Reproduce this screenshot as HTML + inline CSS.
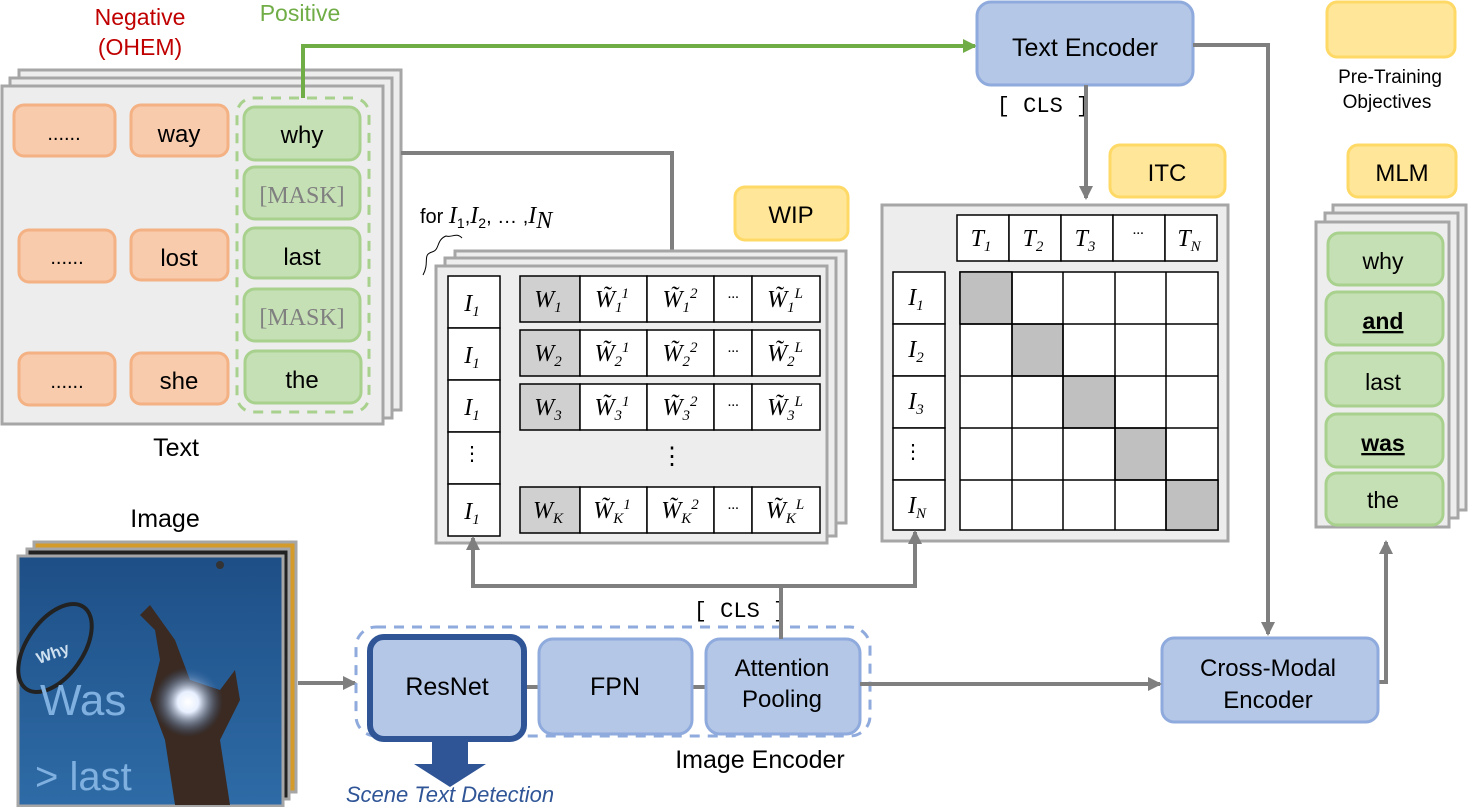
<!DOCTYPE html>
<html><head><meta charset="utf-8"><style>
html,body{margin:0;padding:0;background:#fff;}
svg{display:block;font-family:"Liberation Sans",sans-serif;}
.m{font-family:"Liberation Serif",serif;font-style:italic;font-size:24px;}
.s{font-size:15px;}
</style></head><body>
<svg width="1468" height="807" viewBox="0 0 1468 807" xmlns="http://www.w3.org/2000/svg">
<defs>
<marker id="agr" markerWidth="16" markerHeight="16" refX="12" refY="7" orient="auto" markerUnits="userSpaceOnUse"><path d="M0,0 L14,7 L0,14 z" fill="#70ad47"/></marker>
<marker id="a" markerWidth="16" markerHeight="16" refX="12" refY="7" orient="auto" markerUnits="userSpaceOnUse"><path d="M0,0 L14,7 L0,14 z" fill="#7f7f7f"/></marker>
</defs>

<text x="140" y="25" font-size="23" fill="#c00000" text-anchor="middle">Negative</text>
<text x="140" y="55" font-size="23" fill="#c00000" text-anchor="middle">(OHEM)</text>
<text x="300" y="21" font-size="23" fill="#70ad47" text-anchor="middle">Positive</text>

<rect x="19" y="70" width="382" height="340" fill="#ededed" stroke="#a6a6a6" stroke-width="3"/>
<rect x="10" y="78" width="382" height="340" fill="#ededed" stroke="#a6a6a6" stroke-width="3"/>
<rect x="2" y="86" width="381" height="338" fill="#ededed" stroke="#a6a6a6" stroke-width="3"/>
<g fill="#f8cbad" stroke="#f4b183" stroke-width="3">
<rect x="14" y="105" width="101" height="51" rx="10"/><rect x="131" y="105" width="97" height="51" rx="10"/>
<rect x="19" y="230" width="96" height="52" rx="10"/><rect x="131" y="230" width="97" height="50" rx="10"/>
<rect x="19" y="353" width="96" height="52" rx="10"/><rect x="131" y="353" width="97" height="51" rx="10"/>
</g>
<g font-size="24" text-anchor="middle">
<text x="64" y="140" font-size="20">......</text><text x="179" y="142">way</text>
<text x="67" y="264" font-size="20">......</text><text x="179" y="266">lost</text>
<text x="67" y="388" font-size="20">......</text><text x="179" y="389">she</text>
</g>
<rect x="237" y="98" width="132" height="314" rx="16" fill="none" stroke="#a9d18e" stroke-width="3" stroke-dasharray="10,8"/>
<g fill="#c5e0b4" stroke="#a9d18e" stroke-width="3">
<rect x="244" y="107" width="116" height="53" rx="11"/>
<rect x="244" y="167" width="116" height="52" rx="11"/>
<rect x="244" y="228" width="116" height="50" rx="11"/>
<rect x="244" y="289" width="116" height="52" rx="11"/>
<rect x="245" y="351" width="116" height="52" rx="11"/>
</g>
<g font-size="24" text-anchor="middle">
<text x="302" y="143">why</text><text x="302" y="265">last</text><text x="302" y="388">the</text>
</g>
<g font-family="Liberation Serif,serif" font-size="24" fill="#808080" text-anchor="middle">
<text x="302" y="203">[MASK]</text><text x="302" y="325">[MASK]</text>
</g>
<text x="176" y="456" font-size="25" text-anchor="middle">Text</text>

<polyline points="303,98 303,46 975,46" fill="none" stroke="#70ad47" stroke-width="4" marker-end="url(#agr)"/>

<rect x="977" y="2" width="216" height="83" rx="14" fill="#b4c7e7" stroke="#8faadc" stroke-width="3"/>
<text x="1085" y="56" font-size="25" text-anchor="middle">Text Encoder</text>
<text x="1043" y="112" font-family="Liberation Mono,monospace" font-size="22" text-anchor="middle">[ CLS ]</text>
<line x1="1086" y1="85" x2="1086" y2="198" stroke="#7f7f7f" stroke-width="4" marker-end="url(#a)"/>
<polyline points="1193,45 1268,45 1268,634" fill="none" stroke="#7f7f7f" stroke-width="4" marker-end="url(#a)"/>

<polyline points="401,153 672,153 672,272" fill="none" stroke="#7f7f7f" stroke-width="4" marker-end="url(#a)"/>

<rect x="735" y="187" width="113" height="53" rx="10" fill="#ffe699" stroke="#ffd966" stroke-width="3"/>
<text x="791" y="223" font-size="24" text-anchor="middle">WIP</text>
<text x="420" y="223" font-size="20">for <tspan class="m" font-size="22">I</tspan><tspan font-size="14" dy="5">1</tspan><tspan dy="-5">,</tspan><tspan class="m" font-size="22">I</tspan><tspan font-size="14" dy="5">2</tspan><tspan dy="-5">, … ,</tspan><tspan class="m" font-size="22">I</tspan><tspan class="m" font-size="14" dy="5">N</tspan></text>
<path d="M423,275 C430,262 422,255 432,252 C440,250 436,240 446,236 C452,238 456,232 462,238" fill="none" stroke="#000" stroke-width="1"/>
<rect x="455" y="251" width="391" height="272" fill="#ededed" stroke="#a6a6a6" stroke-width="3"/>
<rect x="445" y="258" width="391" height="278" fill="#ededed" stroke="#a6a6a6" stroke-width="3"/>
<rect x="436" y="266" width="391" height="277" fill="#ededed" stroke="#a6a6a6" stroke-width="3"/>
<g fill="#fff" stroke="#000" stroke-width="1.5">
<rect x="448" y="276" width="52" height="52"/><rect x="448" y="328" width="52" height="52"/><rect x="448" y="380" width="52" height="52"/><rect x="448" y="432" width="52" height="52"/><rect x="448" y="484" width="52" height="52"/>
</g>
<g class="m" text-anchor="middle">
<text x="472" y="311">I<tspan class="s" dy="5">1</tspan></text>
<text x="472" y="363">I<tspan class="s" dy="5">1</tspan></text>
<text x="472" y="415">I<tspan class="s" dy="5">1</tspan></text>
<text x="472" y="519">I<tspan class="s" dy="5">1</tspan></text>
</g>
<text x="462" y="460" font-size="20">⋮</text>
<text x="660" y="464" font-size="24">⋮</text>
<g stroke="#000" stroke-width="1.5">
<g transform="translate(0,276)"><rect x="520" width="60" height="46" fill="#d0d0d0"/><rect x="580" width="67" height="46" fill="#fff"/><rect x="647" width="67" height="46" fill="#fff"/><rect x="714" width="38" height="46" fill="#fff"/><rect x="752" width="68" height="46" fill="#fff"/></g>
<g transform="translate(0,330)"><rect x="520" width="60" height="46" fill="#d0d0d0"/><rect x="580" width="67" height="46" fill="#fff"/><rect x="647" width="67" height="46" fill="#fff"/><rect x="714" width="38" height="46" fill="#fff"/><rect x="752" width="68" height="46" fill="#fff"/></g>
<g transform="translate(0,384)"><rect x="520" width="60" height="46" fill="#d0d0d0"/><rect x="580" width="67" height="46" fill="#fff"/><rect x="647" width="67" height="46" fill="#fff"/><rect x="714" width="38" height="46" fill="#fff"/><rect x="752" width="68" height="46" fill="#fff"/></g>
<g transform="translate(0,487)"><rect x="520" width="60" height="46" fill="#d0d0d0"/><rect x="580" width="67" height="46" fill="#fff"/><rect x="647" width="67" height="46" fill="#fff"/><rect x="714" width="38" height="46" fill="#fff"/><rect x="752" width="68" height="46" fill="#fff"/></g>
</g>
<g class="m" text-anchor="middle" font-size="23">
<text x="548" y="307">W<tspan class="s" dy="5">1</tspan></text><text x="612" y="307">W̃<tspan class="s" dy="5">1</tspan><tspan class="s" dy="-14">1</tspan></text><text x="680" y="307">W̃<tspan class="s" dy="5">1</tspan><tspan class="s" dy="-14">2</tspan></text><text x="733" y="302" font-size="15">···</text><text x="785" y="307">W̃<tspan class="s" dy="5">1</tspan><tspan class="s" dy="-14">L</tspan></text>
<text x="548" y="361">W<tspan class="s" dy="5">2</tspan></text><text x="612" y="361">W̃<tspan class="s" dy="5">2</tspan><tspan class="s" dy="-14">1</tspan></text><text x="680" y="361">W̃<tspan class="s" dy="5">2</tspan><tspan class="s" dy="-14">2</tspan></text><text x="733" y="356" font-size="15">···</text><text x="785" y="361">W̃<tspan class="s" dy="5">2</tspan><tspan class="s" dy="-14">L</tspan></text>
<text x="548" y="415">W<tspan class="s" dy="5">3</tspan></text><text x="612" y="415">W̃<tspan class="s" dy="5">3</tspan><tspan class="s" dy="-14">1</tspan></text><text x="680" y="415">W̃<tspan class="s" dy="5">3</tspan><tspan class="s" dy="-14">2</tspan></text><text x="733" y="410" font-size="15">···</text><text x="785" y="415">W̃<tspan class="s" dy="5">3</tspan><tspan class="s" dy="-14">L</tspan></text>
<text x="548" y="518">W<tspan class="s" dy="5">K</tspan></text><text x="612" y="518">W̃<tspan class="s" dy="5">K</tspan><tspan class="s" dy="-14">1</tspan></text><text x="680" y="518">W̃<tspan class="s" dy="5">K</tspan><tspan class="s" dy="-14">2</tspan></text><text x="733" y="513" font-size="15">···</text><text x="785" y="518">W̃<tspan class="s" dy="5">K</tspan><tspan class="s" dy="-14">L</tspan></text>
</g>

<rect x="1110" y="145" width="115" height="52" rx="10" fill="#ffe699" stroke="#ffd966" stroke-width="3"/>
<text x="1167" y="181" font-size="24" text-anchor="middle">ITC</text>
<rect x="882" y="205" width="346" height="336" fill="#ededed" stroke="#a6a6a6" stroke-width="3"/>
<g fill="#fff" stroke="#000" stroke-width="1.5">
<rect x="957" y="215" width="52" height="46"/><rect x="1009" y="215" width="52" height="46"/><rect x="1061" y="215" width="52" height="46"/><rect x="1113" y="215" width="52" height="46"/><rect x="1165" y="215" width="52" height="46"/>
<rect x="893" y="272" width="52" height="52"/><rect x="893" y="324" width="52" height="52"/><rect x="893" y="376" width="52" height="52"/><rect x="893" y="428" width="52" height="52"/><rect x="893" y="480" width="52" height="50"/>
</g>
<g stroke="#000" stroke-width="1.5" fill="#fff">
<rect x="960" y="272" width="258" height="258"/>
<rect x="960" y="272" width="52" height="52" fill="#c0c0c0"/>
<rect x="1012" y="324" width="51" height="52" fill="#c0c0c0"/>
<rect x="1063" y="376" width="52" height="52" fill="#c0c0c0"/>
<rect x="1115" y="428" width="51" height="52" fill="#c0c0c0"/>
<rect x="1166" y="480" width="52" height="50" fill="#c0c0c0"/>
<line x1="1012" y1="272" x2="1012" y2="530"/><line x1="1063" y1="272" x2="1063" y2="530"/><line x1="1115" y1="272" x2="1115" y2="530"/><line x1="1166" y1="272" x2="1166" y2="530"/>
<line x1="960" y1="324" x2="1218" y2="324"/><line x1="960" y1="376" x2="1218" y2="376"/><line x1="960" y1="428" x2="1218" y2="428"/><line x1="960" y1="480" x2="1218" y2="480"/>
</g>
<g class="m" text-anchor="middle">
<text x="981" y="246">T<tspan class="s" dy="5">1</tspan></text><text x="1033" y="246">T<tspan class="s" dy="5">2</tspan></text><text x="1085" y="246">T<tspan class="s" dy="5">3</tspan></text><text x="1138" y="238" font-size="15">···</text><text x="1189" y="246">T<tspan class="s" dy="5">N</tspan></text>
<text x="916" y="305">I<tspan class="s" dy="5">1</tspan></text><text x="916" y="357">I<tspan class="s" dy="5">2</tspan></text><text x="916" y="409">I<tspan class="s" dy="5">3</tspan></text><text x="917" y="513">I<tspan class="s" dy="5">N</tspan></text>
</g>
<text x="903" y="458" font-size="20">⋮</text>

<rect x="1327" y="2" width="128" height="55" rx="10" fill="#ffe699" stroke="#ffd966" stroke-width="3"/>
<text x="1390" y="83" font-size="19" text-anchor="middle">Pre-Training</text>
<text x="1387" y="108" font-size="19" text-anchor="middle">Objectives</text>
<rect x="1348" y="145" width="108" height="52" rx="10" fill="#ffe699" stroke="#ffd966" stroke-width="3"/>
<text x="1402" y="181" font-size="24" text-anchor="middle">MLM</text>
<rect x="1333" y="205" width="133" height="305" fill="#ededed" stroke="#a6a6a6" stroke-width="3"/>
<rect x="1325" y="213" width="133" height="305" fill="#ededed" stroke="#a6a6a6" stroke-width="3"/>
<rect x="1316" y="222" width="133" height="305" fill="#ededed" stroke="#a6a6a6" stroke-width="3"/>
<g fill="#c5e0b4" stroke="#a9d18e" stroke-width="3">
<rect x="1328" y="233" width="115" height="52" rx="11"/>
<rect x="1326" y="292" width="117" height="53" rx="11"/>
<rect x="1326" y="353" width="117" height="53" rx="11"/>
<rect x="1326" y="414" width="117" height="53" rx="11"/>
<rect x="1326" y="473" width="117" height="52" rx="11"/>
</g>
<g font-size="23" text-anchor="middle">
<text x="1383" y="269">why</text>
<text x="1383" y="329" font-weight="bold" text-decoration="underline">and</text>
<text x="1383" y="390">last</text>
<text x="1383" y="451" font-weight="bold" text-decoration="underline">was</text>
<text x="1383" y="508">the</text>
</g>
<polyline points="1378,682 1386,682 1386,542" fill="none" stroke="#7f7f7f" stroke-width="4" marker-end="url(#a)"/>

<rect x="1162" y="638" width="216" height="84" rx="12" fill="#b4c7e7" stroke="#8faadc" stroke-width="3"/>
<text x="1268" y="676" font-size="24" text-anchor="middle">Cross-Modal</text>
<text x="1268" y="708" font-size="24" text-anchor="middle">Encoder</text>

<text x="165" y="527" font-size="25" text-anchor="middle">Image</text>
<rect x="34" y="542" width="262" height="250" fill="#d49a2a" stroke="#a6a6a6" stroke-width="3"/>
<rect x="27" y="549" width="262" height="250" fill="#222" stroke="#a6a6a6" stroke-width="3"/>
<defs><radialGradient id="sun" cx="0.5" cy="0.5" r="0.5"><stop offset="0" stop-color="#fff"/><stop offset="0.3" stop-color="#e8f0ff"/><stop offset="1" stop-color="#2d5f9a" stop-opacity="0"/></radialGradient>
<linearGradient id="sky" x1="0" y1="0" x2="0" y2="1"><stop offset="0" stop-color="#1e4f86"/><stop offset="1" stop-color="#2e6ba6"/></linearGradient></defs>
<rect x="18" y="556" width="265" height="250" fill="url(#sky)" stroke="#a6a6a6" stroke-width="3"/>
<path d="M175,805 L165,740 L150,700 L160,660 L155,630 L140,615 L150,605 L175,640 L190,680 L220,690 L235,670 L240,700 L220,740 L230,805 Z" fill="#3a2a22"/>
<ellipse cx="55" cy="648" rx="28" ry="50" transform="rotate(35 55 648)" fill="none" stroke="#222" stroke-width="4"/>
<circle cx="188" cy="702" r="35" fill="url(#sun)"/>
<circle cx="220" cy="565" r="4" fill="#333"/>
<text x="40" y="715" font-size="44" fill="#7fb0e0" font-family="Liberation Sans Narrow,Liberation Sans,sans-serif">Was</text>
<text x="35" y="790" font-size="40" fill="#7fb0e0" font-family="Liberation Sans Narrow,Liberation Sans,sans-serif">&gt; last</text>
<text x="38" y="660" font-size="16" fill="#cfe0f0" font-weight="bold" transform="rotate(-20 50 660)">Why</text>

<line x1="298" y1="683" x2="355" y2="683" stroke="#7f7f7f" stroke-width="4" marker-end="url(#a)"/>

<rect x="356" y="627" width="514" height="109" rx="20" fill="none" stroke="#8faadc" stroke-width="3" stroke-dasharray="10,8"/>
<line x1="525" y1="687" x2="705" y2="687" stroke="#7f7f7f" stroke-width="4"/>
<rect x="370" y="637" width="154" height="102" rx="14" fill="#b4c7e7" stroke="#2f5597" stroke-width="6"/>
<rect x="539" y="639" width="153" height="95" rx="14" fill="#b4c7e7" stroke="#8faadc" stroke-width="3"/>
<rect x="706" y="639" width="154" height="95" rx="14" fill="#b4c7e7" stroke="#8faadc" stroke-width="3"/>
<text x="447" y="695" font-size="25" text-anchor="middle">ResNet</text>
<text x="615" y="695" font-size="25" text-anchor="middle">FPN</text>
<text x="782" y="676" font-size="24" text-anchor="middle">Attention</text>
<text x="782" y="707" font-size="24" text-anchor="middle">Pooling</text>
<text x="760" y="768" font-size="25" text-anchor="middle">Image Encoder</text>
<path d="M432,739 L468,739 L468,764 L486,764 L450,787 L414,764 L432,764 Z" fill="#2f5597"/>
<text x="450" y="802" font-size="22" font-style="italic" fill="#2f5597" text-anchor="middle">Scene Text Detection</text>

<line x1="860" y1="684" x2="1160" y2="684" stroke="#7f7f7f" stroke-width="4" marker-end="url(#a)"/>

<text x="740" y="617" font-family="Liberation Mono,monospace" font-size="22" text-anchor="middle">[ CLS ]</text>
<line x1="781" y1="639" x2="781" y2="586" stroke="#7f7f7f" stroke-width="4"/>
<polyline points="472,586 916,586" fill="none" stroke="#7f7f7f" stroke-width="4"/>
<line x1="473" y1="588" x2="473" y2="538" stroke="#7f7f7f" stroke-width="4" marker-end="url(#a)"/>
<line x1="915" y1="588" x2="915" y2="532" stroke="#7f7f7f" stroke-width="4" marker-end="url(#a)"/>
</svg>
</body></html>
